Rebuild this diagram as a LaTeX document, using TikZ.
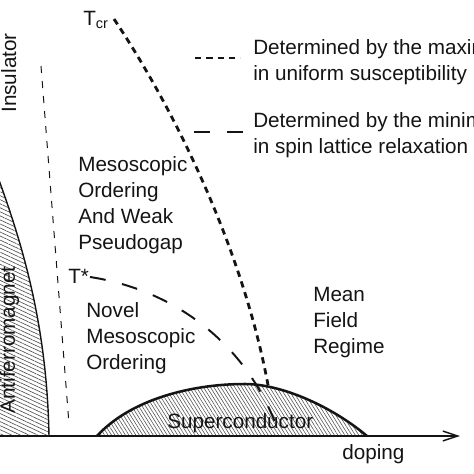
\documentclass[tikz,border=0pt]{standalone}
\usepackage{fontspec}
\setmainfont{Liberation Sans}
\usetikzlibrary{arrows.meta,patterns.meta}
\definecolor{PhaseInk}{gray}{0.08}
\definecolor{HatchInk}{gray}{0.3}

\begin{document}
\begin{tikzpicture}[x=0.025cm,y=-0.025cm,
  font=\fontsize{14.7}{18.4}\selectfont,
  text=PhaseInk,
  regiontext/.style={anchor=base west,inner sep=0pt,align=left},
  sidetext/.style={anchor=base,inner sep=0pt,rotate=90},
  crossover/.style={draw=PhaseInk,line width=2pt,dash pattern=on 4.5pt off 3.5pt},
  pseudogap/.style={draw=PhaseInk,line width=1.4pt,dash pattern=on 11.3pt off 12pt},
  insulating/.style={draw=PhaseInk,line width=0.7pt,dash pattern=on 5pt off 5.7pt},
  boundary/.style={draw=PhaseInk,line width=1.8pt},
]
  \useasboundingbox (0,0) rectangle (474,474);

  % ordered phases
  \fill[pattern={Lines[angle=-25,distance=2.6pt,line width=0.45pt]},pattern color=HatchInk]
    (-4,172) .. controls (25,250) and (47,330) .. (49,436) -- (-4,436) -- cycle;
  \draw[PhaseInk,line width=1pt] (-4,172) .. controls (25,250) and (47,330) .. (49,436);
  \fill[pattern={Lines[angle=-58,distance=2.1pt,line width=0.4pt]},pattern color=HatchInk]
    (97,436) .. controls (130,400) and (190,384) .. (245,384)
    .. controls (280,384) and (330,405) .. (367,436) -- cycle;
  \draw[boundary] (97,436) .. controls (130,400) and (190,384) .. (245,384)
    .. controls (280,384) and (330,405) .. (367,436);

  % doping axis
  \coordinate (origin) at (-5,436);
  \coordinate (axisend) at (460,436);
  \draw[PhaseInk,line width=1pt,-{Straight Barb[length=10.6pt,width=7pt]}] (origin) -- (axisend);
  \node[regiontext] (doping) at (342,459) {doping};

  % crossover lines
  \node[regiontext] (Tcr) at (83,25) {T\textsubscript{cr}};
  \coordinate (Tcrstart) at (114,19);
  \coordinate (Tcrend) at (268,385);
  \draw[crossover] (Tcrstart) .. controls (175,110) and (243,250) .. (Tcrend);

  \node[regiontext] (Tstar) at (68,283) {T*};
  \coordinate (Tstarstart) at (90,277);
  \coordinate (Tstarend) at (280,436);
  \draw[pseudogap] (Tstarstart) .. controls (175,290) and (250,345) .. (Tstarend);

  \coordinate (insultop) at (41,66);
  \coordinate (insulbottom) at (69,424);
  \draw[insulating] (insultop) -- (insulbottom);

  % region labels (base = last line)
  \node[sidetext] (insulator) at (16,73) {Insulator};
  \node[sidetext] (afm) at (15,340) {Antiferromagnet};
  \node[regiontext] (weakpg) at (78,249) {Mesoscopic\\Ordering\\And Weak\\Pseudogap};
  \node[regiontext] (novel) at (86,369) {Novel\\Mesoscopic\\Ordering};
  \node[regiontext] (meanfield) at (313,353) {Mean\\Field\\Regime};
  \node[regiontext] (sc) at (167,428) {Superconductor};

  % legend
  \coordinate (dotA) at (195,58);
  \coordinate (dotB) at (240,58);
  \draw[crossover] (dotA) -- (dotB);
  \coordinate (dashA) at (194,132);
  \coordinate (dashB) at (243,132);
  \draw[pseudogap] (dashA) -- (dashB);
  \node[regiontext] (keydot) at (253,80)
    {Determined by the maximum\\[-0.6pt]in uniform susceptibility};
  \node[regiontext] (keydash) at (253,153)
    {Determined by the minimum\\[-0.6pt]in spin lattice relaxation};
\end{tikzpicture}
\end{document}
